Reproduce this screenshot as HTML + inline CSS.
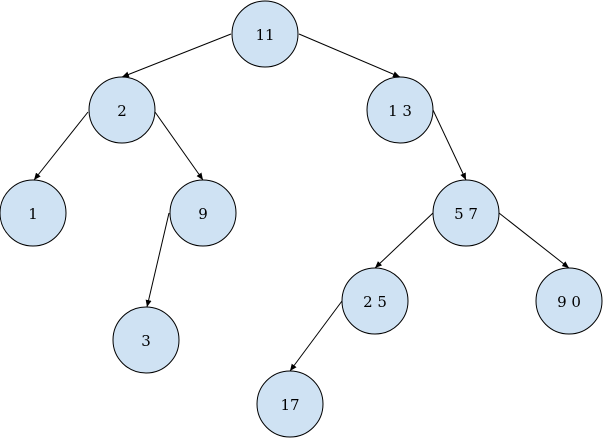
<!DOCTYPE html><html><head><style>body{margin:0;background:#fff}</style></head><body>
<svg width="605" height="438" xmlns="http://www.w3.org/2000/svg">
<defs><marker id="a" markerWidth="8" markerHeight="6" refX="7" refY="3" orient="auto" markerUnits="userSpaceOnUse"><path d="M0,0L7,3L0,6z" fill="#000"/></marker></defs>
<g stroke="#000" stroke-width="1" marker-end="url(#a)">
<line x1="231" y1="34" x2="122" y2="77"/>
<line x1="299" y1="34" x2="400" y2="77"/>
<line x1="88" y1="112" x2="34" y2="180"/>
<line x1="155" y1="112" x2="203" y2="180"/>
<line x1="433" y1="110" x2="466" y2="180"/>
<line x1="169" y1="213" x2="147" y2="307"/>
<line x1="433" y1="213" x2="375" y2="268"/>
<line x1="499" y1="213" x2="569" y2="268"/>
<line x1="342" y1="301" x2="290" y2="371"/>
</g>
<g fill="#cfe2f3" stroke="#000" stroke-width="1">
<circle cx="265" cy="34" r="33"/><circle cx="122" cy="110" r="33"/><circle cx="400" cy="110" r="33"/>
<circle cx="33" cy="213" r="33"/><circle cx="203" cy="213" r="33"/><circle cx="466" cy="213" r="33"/>
<circle cx="146" cy="340" r="33"/><circle cx="375" cy="301" r="33"/><circle cx="569" cy="301" r="33"/>
<circle cx="290" cy="404" r="33"/>
</g>
<g font-family="DejaVu Serif, serif" font-size="15" text-anchor="middle" fill="#000">
<text x="265" y="40">11</text><text x="122" y="116">2</text><text x="400" y="116">1 3</text>
<text x="33" y="219">1</text><text x="203" y="219">9</text><text x="466" y="219">5 7</text>
<text x="146" y="346">3</text><text x="375" y="307">2 5</text><text x="569" y="307">9 0</text>
<text x="290" y="410">17</text>
</g>
</svg></body></html>
